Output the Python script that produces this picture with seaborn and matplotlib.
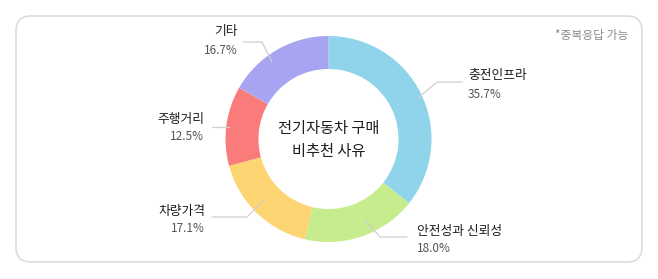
import matplotlib
matplotlib.use("Agg")
import matplotlib.pyplot as plt
import seaborn as sns
from matplotlib.patches import FancyBboxPatch

sns.set_theme(style="white")
plt.rcParams['font.family'] = ['Noto Sans CJK KR', 'DejaVu Sans']

# Data
categories = ["충전인프라", "안전성과 신뢰성", "차량가격", "주행거리", "기타"]
values = [35.7, 18.0, 17.1, 12.5, 16.7]
pct_labels = ["35.7%", "18.0%", "17.1%", "12.5%", "16.7%"]
colors = ["#8fd4ea", "#c6ec8d", "#fdd673", "#f97c7a", "#a7a5f2"]
center_title = "전기자동차 구매\n비추천 사유"
footnote = "*중복응답 가능"

W, H = 658, 279
fig = plt.figure(figsize=(W / 100, H / 100), dpi=100)
ax = fig.add_axes([0, 0, 1, 1])

def Y(y):
    return H - y

# frame
frame = FancyBboxPatch((16, Y(262)), 626, 246, boxstyle="round,pad=0,rounding_size=15",
                       facecolor="white", edgecolor="#dcdcdc", lw=1.2, zorder=0)
ax.add_patch(frame)

cx, cy, R = 328.5, 139, 103
wedges, _ = ax.pie(values, colors=colors, startangle=90, counterclock=False,
                   radius=R, center=(cx, Y(cy)),
                   wedgeprops=dict(width=R * 0.32, edgecolor="none"), frame=True)
for w in wedges:
    w.set_zorder(2)

ax.set_xlim(0, W)
ax.set_ylim(0, H)
ax.set_aspect("auto")
ax.axis("off")

ax.text(cx, Y(cy + 1), center_title, ha="center", va="center", fontsize=11,
        color="#1e1e1e", linespacing=1.5, zorder=5)

# leader lines (image pixel coords)
leaders = [
    [(418, 98), (437, 82), (462, 82)],
    [(365, 220), (380, 237), (407, 237)],
    [(264, 200), (247, 217), (212, 217)],
    [(229, 127), (212, 127)],
    [(272, 62), (262, 42), (243, 42)],
]
for pts in leaders:
    xs = [p[0] for p in pts]
    ys = [Y(p[1]) for p in pts]
    ax.plot(xs, ys, color="#cfcfcf", lw=0.9, zorder=3)

# label positions: (x, name_y, pct_y, ha)
label_pos = [
    (468, 76, 94, "left"),
    (417, 232, 248, "left"),
    (205, 212, 228, "right"),
    (204, 120, 137, "right"),
    (238, 32, 50, "right"),
]
for name, pct, (x, ny, py, ha) in zip(categories, pct_labels, label_pos):
    ax.text(x, Y(ny), name, ha=ha, va="center", fontsize=9.2, color="#1e1e1e")
    ax.text(x, Y(py), pct, ha=ha, va="center", fontsize=8.5, color="#555555")

ax.text(628, Y(35), footnote, ha="right", va="center", fontsize=8.5, color="#8a8a8a")

fig.savefig("out.png", dpi=100)
